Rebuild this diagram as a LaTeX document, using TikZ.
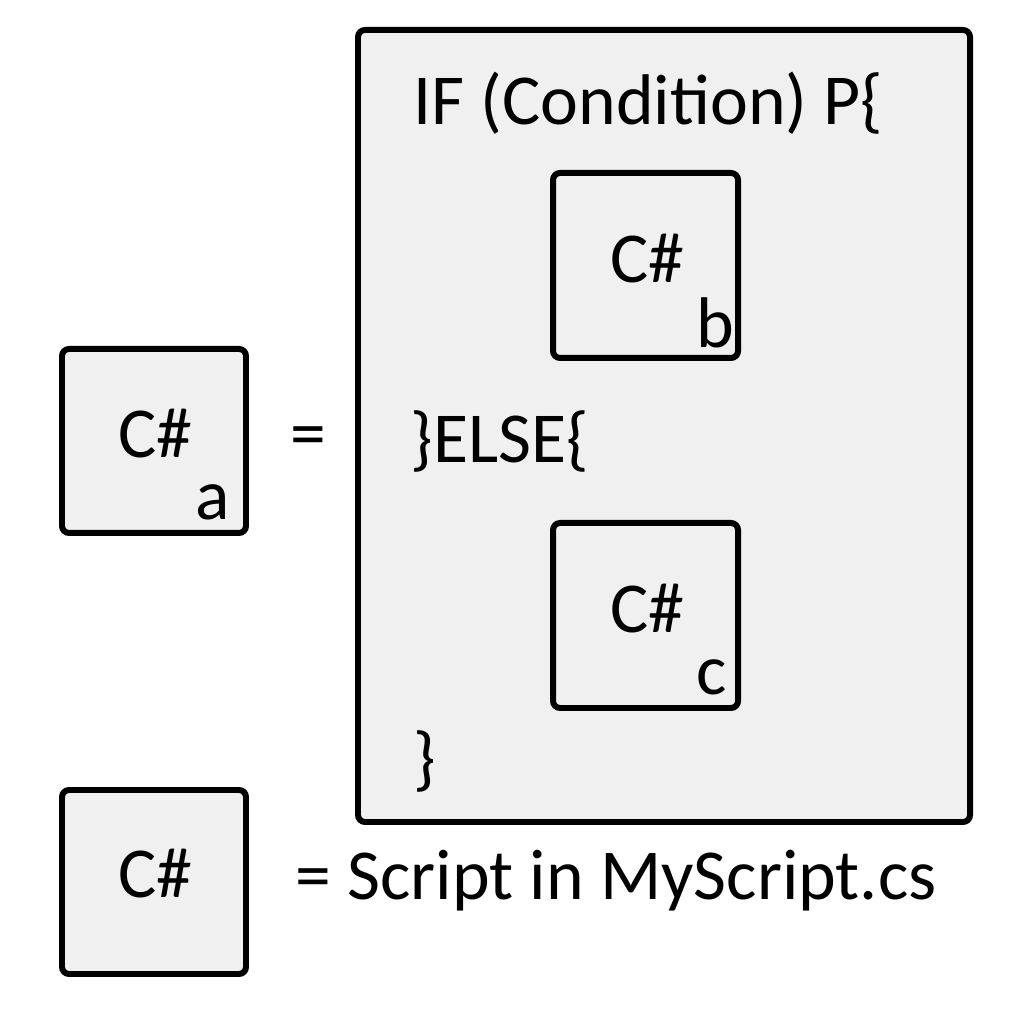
\documentclass[tikz,border=0pt]{standalone}
\usepackage{fontspec}
\setmainfont{Carlito}
\usepackage{tikz}
\definecolor{boxgray}{RGB}{240, 240, 240}

\tikzset{
    script/.style={draw=black, line width=1.7pt, rounded corners=2pt, fill=boxgray},
    code/.style={font=\fontsize{20.4}{24}\selectfont, inner sep=0pt, anchor=base west},
    lbl/.style={font=\fontsize{20.4}{24}\selectfont, inner sep=0pt, anchor=base}
}

\begin{document}
\begin{tikzpicture}
        \useasboundingbox (0,0) rectangle (10.23,10.23);
        
        % 大框: if/else
        \node[script, minimum width=6.12cm, minimum height=7.92cm] (ifbox) at (6.64, 5.97) {};
        \node[code] (ifline) at (4.13, 8.98) {IF (Condition) P\{};
        \node[code] (elseline) at (4.10, 5.60) {\}ELSE\{};
        \node[code] (endline) at (4.13, 2.40) {\}};
        
        % 内部脚本 b, c
        \node[script, minimum size=1.85cm] (boxb) at (6.455, 7.575) {};
        \node[lbl] (textb) at (6.47, 7.40) {C\#};
        \node[lbl] (subb) at (7.15, 6.75) {b};
        
        \node[script, minimum size=1.85cm] (boxc) at (6.455, 4.075) {};
        \node[lbl] (textc) at (6.47, 3.90) {C\#};
        \node[lbl] (subc) at (7.12, 3.28) {c};
        
        % 左侧脚本 a
        \node[script, minimum size=1.84cm] (boxa) at (1.54, 5.82) {};
        \node[lbl] (texta) at (1.55, 5.65) {C\#};
        \node[lbl] (suba) at (2.13, 5.03) {a};
        \node[lbl] (eqa) at (3.08, 5.65) {=};
        
        % 图例
        \node[script, minimum size=1.84cm] (boxkey) at (1.54, 1.41) {};
        \node[lbl] (textkey) at (1.55, 1.25) {C\#};
        \node[code] (keyline) at (2.95, 1.23) {= Script in MyScript.cs};
    \end{tikzpicture}
\end{document}
